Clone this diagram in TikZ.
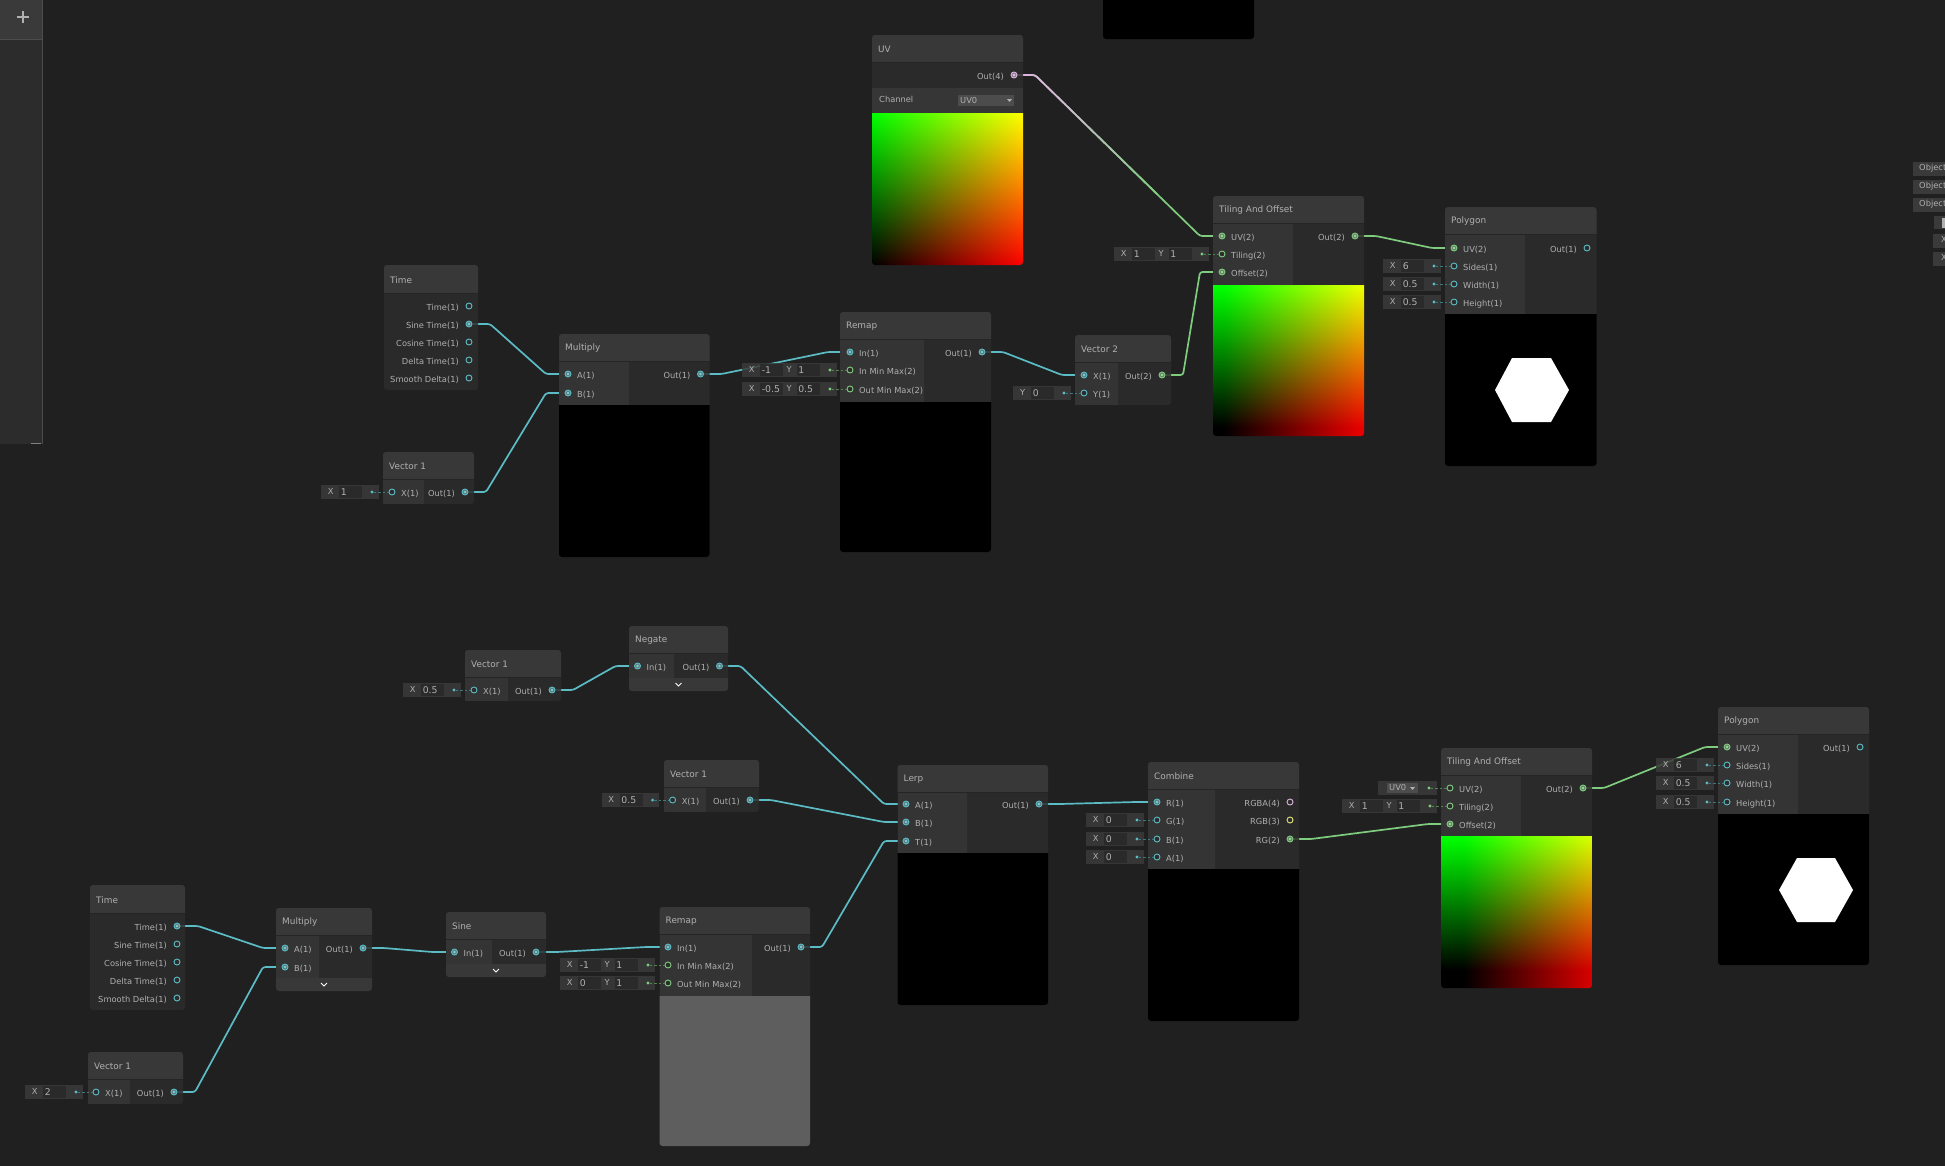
\documentclass[tikz,border=0pt]{standalone}
\usepackage{fontspec}
\setmainfont{DejaVu Sans}
\usetikzlibrary{calc}
\definecolor{canvasgrey}{HTML}{202020}
\definecolor{cardgrey}{HTML}{2C2C2C}
\definecolor{titlegrey}{HTML}{3A3A3A}
\definecolor{panelgrey}{HTML}{363636}
\definecolor{edgegrey}{HTML}{252525}
\definecolor{labelgrey}{HTML}{B0B0B0}
\definecolor{wellgrey}{HTML}{292929}
\definecolor{dropgrey}{HTML}{4C4C4C}
\definecolor{mapgrey}{HTML}{5E5E5E}
\definecolor{wireblue}{HTML}{5CBCC5}
\definecolor{wiregreen}{HTML}{7FCC7F}
\definecolor{wirepink}{HTML}{DDB4DD}
\definecolor{wireyellow}{HTML}{E5E57A}
\colorlet{blueon}{wireblue!75!white}
\colorlet{greenon}{wiregreen!75!white}
\colorlet{pinkon}{wirepink!75!white}
\pgfdeclarelayer{wires}
\pgfsetlayers{wires,main}
\newcommand{\declareramp}[4]{\pgfdeclarefunctionalshading{#1}{\pgfpointorigin}{\pgfpoint{100bp}{100bp}}{}{25 sub 50 div #3 sub #4 mul exch 25 sub 50 div #2 sub exch 0}}
\declareramp{uvramp}{0}{0}{1}
\declareramp{topramp}{0.07}{0.06}{1.08}
\declareramp{lowramp}{0.15}{0.12}{1.15}
\tikzset{
    x=1pt, y=-1pt,
    sidetext/.style={text=labelgrey, font=\fontsize{8.3}{10}\selectfont, inner sep=0pt, text height=7pt, text depth=2pt},
    titletext/.style={text=labelgrey, font=\fontsize{8.9}{11}\selectfont, inner sep=0pt, anchor=west},
    slot/.style={circle, draw=#1, line width=0.9pt, minimum size=6pt, inner sep=0pt},
    wire/.style={draw=#1, line width=1.7pt, rounded corners=2.5pt, to path={-- ++(21,0) -- ([xshift=-22pt]\tikztotarget.center) -- (\tikztotarget)}},
    link/.style={draw=#1!65!black, line width=1pt, dash pattern=on 2.5pt off 2pt},
    fieldbox/.style={fill=titlegrey, fill opacity=0.85, text opacity=1, inner sep=0pt, minimum height=14pt},
    fieldwell/.style={fill=wellgrey, fill opacity=0.85, text opacity=1, text=labelgrey, font=\fontsize{9.3}{10}\selectfont, inner xsep=1.5pt, inner ysep=0pt, text width=20pt, align=left, minimum height=12pt, text height=7.5pt, text depth=1pt, anchor=west},
    fielddot/.style={circle, fill=#1, minimum size=3.2pt, inner sep=0pt},
    dropbox/.style={fill=dropgrey, text=labelgrey, font=\fontsize{8.3}{10}\selectfont, inner xsep=2pt, inner ysep=0pt, minimum height=10.5pt, text height=6.5pt, text depth=1pt, align=left, anchor=west},
}
\newcommand{\card}[9]{
    \fill[cardgrey, fill opacity=0.85, rounded corners=3pt] (#3,#4) rectangle (#5,#8);
    \fill[titlegrey, fill opacity=0.9] (#3,#6) {[rounded corners=3pt] -- (#3,#4) -- (#5,#4)} -- (#5,#6) -- cycle;
    \fill[panelgrey, fill opacity=0.85] (#3,#6) rectangle (#9,#7);
    \draw[edgegrey, line width=0.8pt] (#3,#6) -- (#5,#6);
    \node[titletext] (#1) at (#3+6,{(#4+#6)/2+1}) {#2};
}
\newcommand{\previewpanel}[5]{
    \path[#1] (#2,#3) {[rounded corners=3pt] -- (#2,#5) -- (#4,#5)} -- (#4,#3) -- cycle;
}
\newcommand{\footstrip}[4]{
    \fill[titlegrey, fill opacity=0.9] (#1,#2) {[rounded corners=3pt] -- (#1,#4) -- (#3,#4)} -- (#3,#2) -- cycle;
    \draw[white, line width=1pt] ({(#1+#3)/2-3},{(#2+#4)/2-1.5}) -- ({(#1+#3)/2},{(#2+#4)/2+1.5}) -- ({(#1+#3)/2+3},{(#2+#4)/2-1.5});
}
\newcommand{\inslot}[5][cardgrey]{
    \node[slot=#4, fill=#1!50!cardgrey, path picture={\fill[#1] (path picture bounding box.center) circle (1.3pt);}] (#2) at (#3) {};
    \node[sidetext, anchor=west] (#2txt) at ([xshift=9pt,yshift=-2pt]#2.center) {#5};
}
\newcommand{\outslot}[5][cardgrey]{
    \node[slot=#4, fill=#1!50!cardgrey, path picture={\fill[#1] (path picture bounding box.center) circle (1.3pt);}] (#2) at (#3) {};
    \node[sidetext, anchor=east] (#2txt) at ([xshift=-10pt,yshift=-2pt]#2.center) {#5};
}
\newcommand{\onefield}[4][X]{
    \node[fieldbox, minimum width=57.5pt, anchor=east] (#2box) at ([xshift=-13pt]#2.center) {};
    \node[sidetext] (#2let) at ([xshift=9.5pt]#2box.west) {#1};
    \node[fieldwell] (#2val) at ([xshift=18pt]#2box.west) {#4};
    \node[fielddot=#3] (#2dot) at ([xshift=-7pt]#2box.east) {};
    \draw[link=#3] (#2dot) -- (#2);
}
\newcommand{\twofield}[4]{
    \node[fieldbox, minimum width=94.5pt, anchor=east] (#1box) at ([xshift=-13pt]#1.center) {};
    \node[sidetext] (#1letx) at ([xshift=9.5pt]#1box.west) {X};
    \node[fieldwell] (#1valx) at ([xshift=18pt]#1box.west) {#3};
    \node[sidetext] (#1lety) at ([xshift=47pt]#1box.west) {Y};
    \node[fieldwell] (#1valy) at ([xshift=54.5pt]#1box.west) {#4};
    \node[fielddot=#2] (#1dot) at ([xshift=-7pt]#1box.east) {};
    \draw[link=#2] (#1dot) -- (#1);
}
\begin{document}
\begin{tikzpicture}
    \useasboundingbox (0,0) rectangle (1945,1165);
    \begin{pgfonlayer}{wires}
        \fill[canvasgrey] (-5,-5) rectangle (1950,1170);
    \end{pgfonlayer}

    \fill[cardgrey] (0,39) rectangle (42,444);
    \fill[titlegrey] (0,0) rectangle (42,39);
    \draw[black!70, line width=0.8pt] (0,39) -- (42,39) (42,0) -- (42,444);
    \draw[labelgrey, line width=1.6pt] (17,17) -- (29,17) (23,11) -- (23,23);
    \draw[black!50, line width=1pt] (31,443) -- (41,443);
    \previewpanel{fill=black}{1103}{-5}{1254}{39}
    \foreach \y/\nm in {162/oba,180/obb,198/obc}{
        \fill[titlegrey] (1913,\y) rectangle (1946,\y+14);
        \node[sidetext, anchor=west] (\nm) at (1919,\y+6) {Object};
    }
    \fill[titlegrey] (1934,216) rectangle (1946,229);
    \fill[labelgrey] (1942,218) rectangle (1946,228);
    \foreach \y/\nm in {234/sxa,252/sxb}{
        \fill[titlegrey] (1933,\y) rectangle (1946,\y+14);
        \node[sidetext, anchor=west] (\nm) at (1941,\y+6) {X};
    }

    % upper graph
    \card{uvcard}{UV}{872}{35}{1023}{62}{88}{265}{872}
    \fill[panelgrey] (872,88) rectangle (1023,113);
    \node[sidetext, anchor=west] (uvchan) at (879,99.5) {Channel};
    \node[dropbox, text width=52pt] (uvdrop) at (958,100.5) {UV0};
    \fill[labelgrey] (1007,99) -- (1012,99) -- (1009.5,102) -- cycle;
    \outslot[pinkon]{uvout}{1014,75}{wirepink}{Out(4)}
    \previewpanel{shade, shading=uvramp}{872}{113}{1023}{265}

    \card{timetop}{Time}{384}{265}{478}{293}{390}{390}{384}
    \foreach \nm/\st/\y/\lbl in {a/cardgrey/306/{Time(1)},b/blueon/324/{Sine Time(1)},c/cardgrey/342/{Cosine Time(1)},d/cardgrey/360/{Delta Time(1)},e/cardgrey/378/{Smooth Delta(1)}}{
        \outslot[\st]{tt\nm}{469,\y}{wireblue}{\lbl}
    }
    \card{vectop}{Vector 1}{383}{452}{474}{479}{504}{504}{424}
    \inslot{vtx}{392,492}{wireblue}{X(1)}
    \outslot[blueon]{vtout}{465,492}{wireblue}{Out(1)}
    \onefield{vtx}{wireblue}{1}

    \card{multop}{Multiply}{559}{334}{709.5}{361}{405}{557}{629}
    \inslot[blueon]{mta}{568,374}{wireblue}{A(1)}
    \inslot[blueon]{mtb}{568,393}{wireblue}{B(1)}
    \outslot[blueon]{mtout}{700.5,374}{wireblue}{Out(1)}
    \previewpanel{fill=black}{559}{405}{709.5}{557}

    \card{remaptop}{Remap}{840}{312}{991}{339}{402}{552}{924}
    \inslot[blueon]{rtin}{850,352}{wireblue}{In(1)}
    \inslot{rtmin}{850,370}{wiregreen}{In Min Max(2)}
    \inslot{rtmax}{850,389}{wiregreen}{Out Min Max(2)}
    \outslot[blueon]{rtout}{982,352}{wireblue}{Out(1)}
    \twofield{rtmin}{wiregreen}{-1}{1}
    \twofield{rtmax}{wiregreen}{-0.5}{0.5}
    \previewpanel{fill=black}{840}{402}{991}{552}

    \card{vectwo}{Vector 2}{1075}{335}{1171}{362}{405}{405}{1118}
    \inslot[blueon]{vwx}{1084,375}{wireblue}{X(1)}
    \inslot{vwy}{1084,393}{wireblue}{Y(1)}
    \outslot[greenon]{vwout}{1162,375}{wiregreen}{Out(2)}
    \onefield[Y]{vwy}{wireblue}{0}

    \card{tiltop}{Tiling And Offset}{1213}{196}{1364}{223}{285}{436}{1293}
    \inslot[greenon]{ttuv}{1222,236}{wiregreen}{UV(2)}
    \inslot{tttil}{1222,254}{wiregreen}{Tiling(2)}
    \inslot[greenon]{ttoff}{1222,272}{wiregreen}{Offset(2)}
    \outslot[greenon]{ttout}{1355,236}{wiregreen}{Out(2)}
    \twofield{tttil}{wiregreen}{1}{1}
    \previewpanel{shade, shading=topramp}{1213}{285}{1364}{436}

    \card{polytop}{Polygon}{1445}{207}{1596.5}{234}{314}{466}{1525}
    \inslot[greenon]{ptuv}{1454,248}{wiregreen}{UV(2)}
    \inslot{ptsid}{1454,266}{wireblue}{Sides(1)}
    \inslot{ptwid}{1454,284}{wireblue}{Width(1)}
    \inslot{pthei}{1454,302}{wireblue}{Height(1)}
    \outslot{ptout}{1587,248}{wireblue}{Out(1)}
    \onefield{ptsid}{wireblue}{6}
    \onefield{ptwid}{wireblue}{0.5}
    \onefield{pthei}{wireblue}{0.5}
    \previewpanel{fill=black}{1445}{314}{1596.5}{466}
    \fill[white] (1495,390) -- (1512,358) -- (1551,358) -- (1569,390) -- (1551,422) -- (1512,422) -- cycle;

    % lower graph
    \card{veceast}{Vector 1}{465}{650}{561}{677}{701}{701}{508}
    \inslot{vex}{474,690}{wireblue}{X(1)}
    \outslot[blueon]{veout}{552,690}{wireblue}{Out(1)}
    \onefield{vex}{wireblue}{0.5}

    \card{negate}{Negate}{629}{626}{728}{653}{678}{691}{673.5}
    \inslot[blueon]{negin}{637.5,666}{wireblue}{In(1)}
    \outslot[blueon]{negout}{719.5,666}{wireblue}{Out(1)}
    \footstrip{629}{678}{728}{691}

    \card{vecmid}{Vector 1}{664}{760}{759}{787}{812}{812}{706}
    \inslot{vmx}{672.6,800}{wireblue}{X(1)}
    \outslot[blueon]{vmout}{750,800}{wireblue}{Out(1)}
    \onefield{vmx}{wireblue}{0.5}

    \card{timelow}{Time}{90}{885}{185}{913}{1010}{1010}{90}
    \foreach \nm/\st/\y/\lbl in {a/blueon/926/{Time(1)},b/cardgrey/944/{Sine Time(1)},c/cardgrey/962/{Cosine Time(1)},d/cardgrey/980/{Delta Time(1)},e/cardgrey/998/{Smooth Delta(1)}}{
        \outslot[\st]{tl\nm}{177,\y}{wireblue}{\lbl}
    }
    \card{veclow}{Vector 1}{88}{1052}{183}{1079}{1104}{1104}{130}
    \inslot{vlx}{96,1092}{wireblue}{X(1)}
    \outslot[blueon]{vlout}{174,1092}{wireblue}{Out(1)}
    \onefield{vlx}{wireblue}{2}

    \card{mullow}{Multiply}{276}{908}{372}{935}{978}{991}{319}
    \inslot[blueon]{mla}{285,948}{wireblue}{A(1)}
    \inslot[blueon]{mlb}{285,967}{wireblue}{B(1)}
    \outslot[blueon]{mlout}{363,948}{wireblue}{Out(1)}
    \footstrip{276}{978}{372}{991}

    \card{sine}{Sine}{446}{912}{546}{939}{964}{977}{492}
    \inslot[blueon]{sinin}{454.5,952}{wireblue}{In(1)}
    \outslot[blueon]{sinout}{536,952}{wireblue}{Out(1)}
    \footstrip{446}{964}{546}{977}

    \card{remaplow}{Remap}{659.5}{907}{810}{934}{996}{1146}{752}
    \inslot[blueon]{rlin}{668,947}{wireblue}{In(1)}
    \inslot{rlmin}{668,965}{wiregreen}{In Min Max(2)}
    \inslot{rlmax}{668,983}{wiregreen}{Out Min Max(2)}
    \outslot[blueon]{rlout}{801,947}{wireblue}{Out(1)}
    \twofield{rlmin}{wiregreen}{-1}{1}
    \twofield{rlmax}{wiregreen}{0}{1}
    \previewpanel{fill=mapgrey}{659.5}{996}{810}{1146}

    \card{lerp}{Lerp}{897.5}{765}{1048}{792}{853}{1005}{967}
    \inslot[blueon]{lea}{906,804}{wireblue}{A(1)}
    \inslot[blueon]{leb}{906,822}{wireblue}{B(1)}
    \inslot[blueon]{let}{906,841}{wireblue}{T(1)}
    \outslot[blueon]{leout}{1039,804}{wireblue}{Out(1)}
    \previewpanel{fill=black}{897.5}{853}{1048}{1005}

    \card{combine}{Combine}{1148}{762}{1299}{789}{869}{1021}{1215}
    \inslot[blueon]{cor}{1157,802}{wireblue}{R(1)}
    \inslot{cog}{1157,820}{wireblue}{G(1)}
    \inslot{cob}{1157,839}{wireblue}{B(1)}
    \inslot{coa}{1157,857}{wireblue}{A(1)}
    \outslot{corgba}{1290,802}{wirepink}{RGBA(4)}
    \outslot{corgb}{1290,820}{wireyellow}{RGB(3)}
    \outslot[greenon]{corg}{1290,839}{wiregreen}{RG(2)}
    \onefield{cog}{wireblue}{0}
    \onefield{cob}{wireblue}{0}
    \onefield{coa}{wireblue}{0}
    \previewpanel{fill=black}{1148}{869}{1299}{1021}

    \card{tillow}{Tiling And Offset}{1441}{748}{1592}{775}{836}{988}{1521}
    \inslot{tluv}{1450,788}{wiregreen}{UV(2)}
    \inslot{tltil}{1450,806}{wiregreen}{Tiling(2)}
    \inslot[greenon]{tloff}{1450,824}{wiregreen}{Offset(2)}
    \outslot[greenon]{tlout}{1583,788}{wiregreen}{Out(2)}
    \node[fieldbox, minimum width=59pt, anchor=east] (tluvbox) at ([xshift=-13pt]tluv.center) {};
    \node[dropbox, text width=27pt] (tluvdrop) at (1387,788) {UV0};
    \fill[labelgrey] (1410,787) -- (1415,787) -- (1412.5,790) -- cycle;
    \node[fielddot=wiregreen] (tluvdot) at (1429,788) {};
    \draw[link=wiregreen] (tluvdot) -- (tluv);
    \twofield{tltil}{wiregreen}{1}{1}
    \previewpanel{shade, shading=lowramp}{1441}{836}{1592}{988}

    \card{polylow}{Polygon}{1718}{707}{1869}{734}{814}{965}{1798}
    \inslot[greenon]{pluv}{1727,747}{wiregreen}{UV(2)}
    \inslot{plsid}{1727,765}{wireblue}{Sides(1)}
    \inslot{plwid}{1727,783}{wireblue}{Width(1)}
    \inslot{plhei}{1727,802}{wireblue}{Height(1)}
    \outslot{plout}{1860,747}{wireblue}{Out(1)}
    \onefield{plsid}{wireblue}{6}
    \onefield{plwid}{wireblue}{0.5}
    \onefield{plhei}{wireblue}{0.5}
    \previewpanel{fill=black}{1718}{814}{1869}{965}
    \fill[white] (1779,890) -- (1797,858) -- (1835,858) -- (1853,890) -- (1835,922) -- (1797,922) -- cycle;

    \begin{pgfonlayer}{wires}
        \foreach \a/\b in {ttb/mta,vtout/mtb,mtout/rtin,rtout/vwx,tla/mla,vlout/mlb,mlout/sinin,sinout/rlin,rlout/let,vmout/leb,negout/lea,veout/negin,leout/cor}{
            \draw[wire=wireblue] (\a) to (\b);
        }
        \foreach \a/\b in {vwout/ttoff,ttout/ptuv,corg/tloff,tlout/pluv,uvout/ttuv}{
            \draw[wire=wiregreen] (\a) to (\b);
        }
        \coordinate (uvbend) at ([xshift=21pt]uvout.center);
        \coordinate (ttbend) at ([xshift=-22pt]ttuv.center);
        \draw[wirepink, line width=1.7pt, rounded corners=2.5pt] (uvout) -- (uvbend) -- ($(uvbend)!0.1!(ttbend)$);
        \foreach \s in {10,14,...,70}{
            \pgfmathtruncatemacro{\pnk}{100-(\s-10)*100/60}
            \draw[draw=wirepink!\pnk!wiregreen, line width=1.7pt] ($(uvbend)!\s/100!(ttbend)$) -- ($(uvbend)!\s/100+0.045!(ttbend)$);
        }
    \end{pgfonlayer}
\end{tikzpicture}
\end{document}
